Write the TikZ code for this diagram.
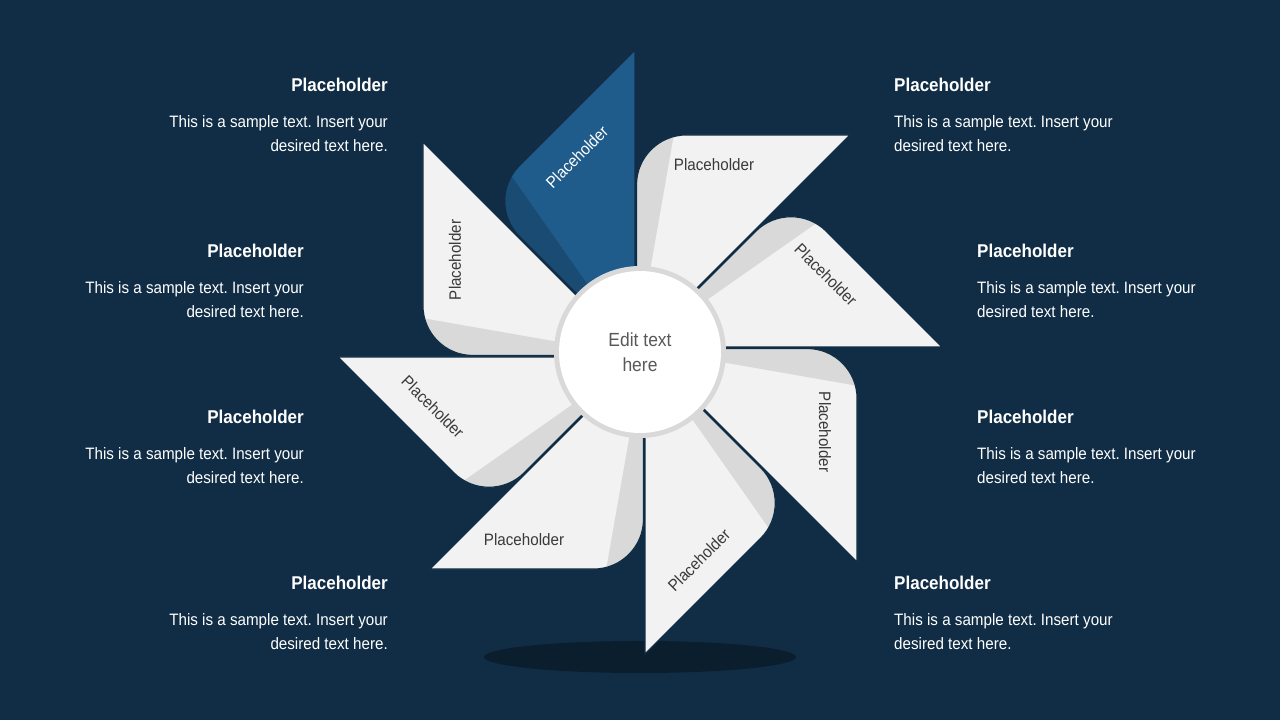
\documentclass[tikz,border=0pt]{standalone}
\usepackage{fontspec}
\setmainfont{Liberation Sans}[FakeStretch=0.92]
\frenchspacing
\definecolor{bg}{HTML}{102D45}
\definecolor{bladewhite}{HTML}{F2F2F2}
\definecolor{bladegrey}{HTML}{D9D9D9}
\definecolor{bladeblue}{HTML}{1F5C8B}
\definecolor{bladebluedark}{HTML}{1A4B73}
\definecolor{shadow}{HTML}{0B1E2D}
\definecolor{labelgrey}{HTML}{3A3A3A}
\definecolor{centergrey}{HTML}{595959}
\tikzset{
  headtext/.style={inner sep=0pt, text=white, font=\fontsize{18.5}{22}\selectfont\bfseries},
  bodytext/.style={inner sep=0pt, text=white, font=\fontsize{16.5}{20}\selectfont},
  bladelabel/.style={inner sep=0pt, text=labelgrey, font=\fontsize{16.5}{20}\selectfont},
  bluelabel/.style={inner sep=0pt, text=white, font=\fontsize{16.5}{20}\selectfont},
  gapline/.style={draw=bg, line width=1.2pt, line join=miter}
}
% #1 rotation angle, #2 main colour, #3 fold colour
\newcommand{\drawblade}[3]{%
  \begin{scope}[shift={(640,368)}, rotate=#1]
    \fill[#2] (0,5) -- (302,5) -- (186.36,120.64) arc[start angle=45,end angle=135,radius=50] -- cycle;
    \begin{scope}
      \clip (0,5) -- (302,5) -- (186.36,120.64) arc[start angle=45,end angle=135,radius=50] -- cycle;
      \fill[#3] (-30,-16) -- (262,189) -- (150,330) -- (-150,160) -- cycle;
    \end{scope}
    \draw[gapline] (0,5) -- (302,5) -- (186.36,120.64) arc[start angle=45,end angle=135,radius=50] -- cycle;
  \end{scope}}
\newcommand{\sideleft}[3]{% #1 name, #2 x right edge, #3 heading baseline (tikz y)
  \node[headtext, anchor=base east] (#1h) at (#2,#3) {Placeholder};
  \node[bodytext, anchor=base east] (#1a) at (#2,#3-36) {This is a sample text. Insert your};
  \node[bodytext, anchor=base east] (#1b) at (#2,#3-60) {desired text here.};}
\newcommand{\sideright}[3]{%
  \node[headtext, anchor=base west] (#1h) at (#2,#3) {Placeholder};
  \node[bodytext, anchor=base west] (#1a) at (#2,#3-36) {This is a sample text. Insert your};
  \node[bodytext, anchor=base west] (#1b) at (#2,#3-60) {desired text here.};}
\begin{document}
\begin{tikzpicture}[x=1pt,y=1pt]
  \fill[bg] (0,0) rectangle (1280,720);
  \useasboundingbox (0,0) rectangle (1280,720);
  % shadow
  \fill[shadow] (640,63) ellipse[x radius=156, y radius=16];
  % blades
  \drawblade{0}{bladewhite}{bladegrey}
  \drawblade{45}{bladewhite}{bladegrey}
  \drawblade{90}{bladeblue}{bladebluedark}
  \drawblade{135}{bladewhite}{bladegrey}
  \drawblade{180}{bladewhite}{bladegrey}
  \drawblade{225}{bladewhite}{bladegrey}
  \drawblade{270}{bladewhite}{bladegrey}
  \drawblade{315}{bladewhite}{bladegrey}
  % centre circle
  \fill[bladegrey] (640,368) circle[radius=86];
  \node[circle, fill=white, minimum size=162pt, inner sep=0pt, text=centergrey,
        font=\fontsize{19}{25}\selectfont, align=center] (hub) at (640,368) {Edit text\\here};
  % blade labels
  \node[bluelabel, rotate=45] (l90) at (577,563) {Placeholder};
  \node[bladelabel, rotate=0] (l45) at (714,555) {Placeholder};
  \node[bladelabel, rotate=-45] (l0) at (826,445) {Placeholder};
  \node[bladelabel, rotate=-90] (l315) at (825,288) {Placeholder};
  \node[bladelabel, rotate=45] (l270) at (699,160) {Placeholder};
  \node[bladelabel, rotate=0] (l225) at (524,180) {Placeholder};
  \node[bladelabel, rotate=-45] (l180) at (433,313) {Placeholder};
  \node[bladelabel, rotate=90] (l135) at (455,460) {Placeholder};
  % side texts
  \sideleft{tl}{388}{628}
  \sideleft{ml}{304}{462}
  \sideleft{bl}{304}{296}
  \sideleft{ll}{388}{130}
  \sideright{tr}{894}{628}
  \sideright{mr}{977}{462}
  \sideright{br}{977}{296}
  \sideright{lr}{894}{130}
\end{tikzpicture}
\end{document}
